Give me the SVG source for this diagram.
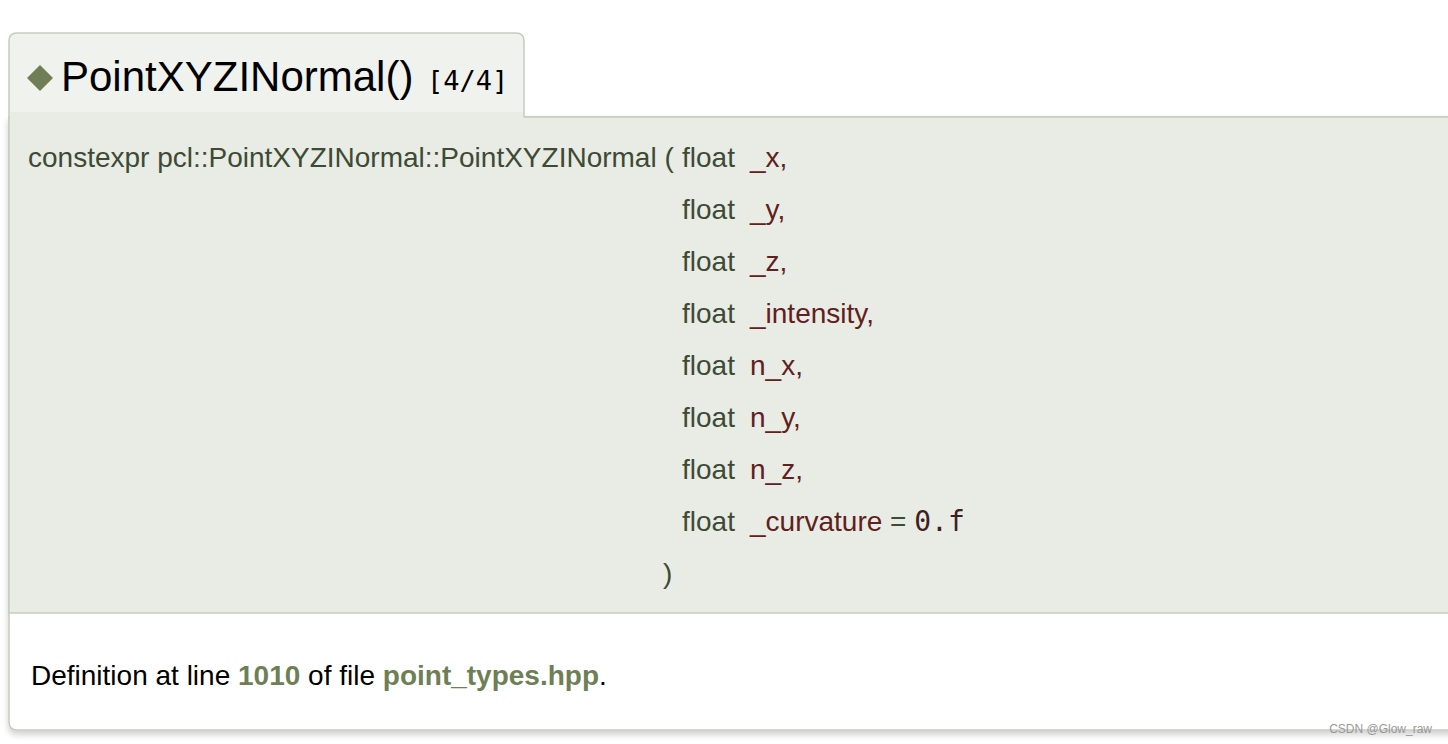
<svg xmlns="http://www.w3.org/2000/svg" width="1448" height="744" viewBox="0 0 1448 744">
<style>
.t{font-family:"Liberation Sans",Arial,sans-serif;font-size:28px;fill:#3d4a35}
.n{font-family:"Liberation Sans",Arial,sans-serif;font-size:28px;fill:#602020}
.m{font-family:"DejaVu Sans Mono",monospace}
.b{font-weight:bold;fill:#6e7f56}
</style>
<defs>
<filter id="sh" x="-5%" y="-5%" width="110%" height="120%"><feDropShadow dx="0" dy="4" stdDeviation="3" flood-color="#000" flood-opacity="0.18"/></filter>
</defs>
<rect width="1448" height="744" fill="#fff"/>
<g id="box" filter="url(#sh)">
<path d="M9,117 H1460 V730 H17 Q9,730 9,722 Z" fill="#fff" stroke="#c6ccbd" stroke-width="1.5"/>
<rect x="9" y="117" width="1451" height="496" fill="#e8ece4" stroke="#c6ccbd" stroke-width="1.5"/>
</g>
<g id="tab">
<path d="M9,117 V41 Q9,33 17,33 H516 Q524,33 524,41 V117" fill="#f0f2ed" stroke="#c6ccbd" stroke-width="1.5"/>
<rect x="10" y="112" width="513" height="7" fill="#e8ece4"/>
<polygon points="40,65 53,78 40,91 27,78" fill="#6e7f56"/>
<text x="61" y="91" font-family="Liberation Sans,Arial,sans-serif" font-size="42" fill="#000">PointXYZINormal()</text>
<text x="427" y="90" class="m" font-size="27" fill="#000">[4/4]</text>
</g>
<g id="proto">
<text x="28" y="167" class="t">constexpr pcl::PointXYZINormal::PointXYZINormal (</text>
<g class="t">
<text x="682" y="167">float</text><text x="682" y="219">float</text><text x="682" y="271">float</text><text x="682" y="323">float</text>
<text x="682" y="375">float</text><text x="682" y="427">float</text><text x="682" y="479">float</text><text x="682" y="531">float</text>
<text x="663" y="583">)</text>
</g>
<g class="n">
<text x="750" y="167">_x,</text><text x="750" y="219">_y,</text><text x="750" y="271">_z,</text><text x="750" y="323">_intensity,</text>
<text x="750" y="375">n_x,</text><text x="750" y="427">n_y,</text><text x="750" y="479">n_z,</text>
<text x="750" y="531">_curvature <tspan fill="#3d4a35">=</tspan> <tspan class="m" fill="#3d2020">0.f</tspan></text>
</g>
</g>
<g id="doc">
<text x="31" y="685" font-family="Liberation Sans,Arial,sans-serif" font-size="28" fill="#000">Definition at line <tspan class="b">1010</tspan> of file <tspan class="b">point_types.hpp</tspan>.</text>
<text x="1432" y="733" text-anchor="end" font-family="Liberation Sans,Arial,sans-serif" font-size="12" fill="#999">CSDN @Glow_raw</text>
</g>
</svg>
